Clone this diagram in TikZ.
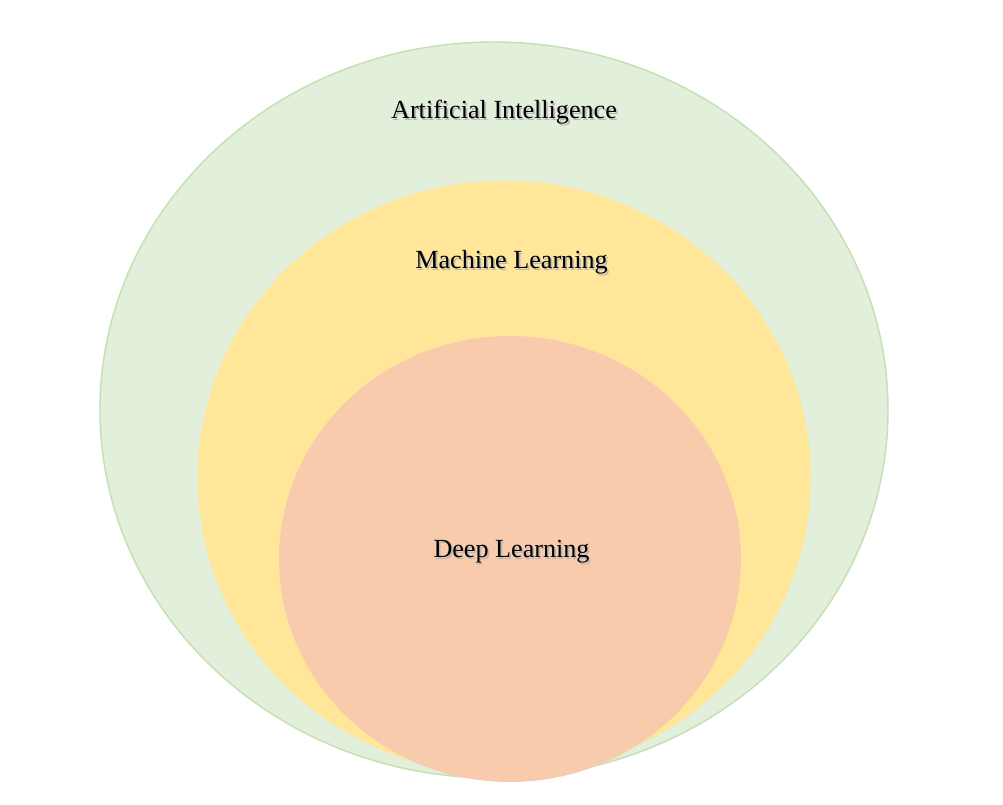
\documentclass[tikz,border=0pt]{standalone}
\usepackage{fontspec}
\setmainfont{Liberation Serif}
\usetikzlibrary{shapes}
\usetikzlibrary{positioning}

\definecolor{aigreen}{HTML}{E2EFDA}
\definecolor{aiborder}{HTML}{C5E0B4}
\definecolor{mlyellow}{HTML}{FFE699}
\definecolor{dlorange}{HTML}{F8CBAD}

\newcommand{\shadowtxt}[1]{\makebox[0pt][l]{\hspace{1.3pt}\raisebox{-1.3pt}{\color{black!28}#1}}#1}

\tikzset{
  field/.style={ellipse, inner sep=0pt},
  fieldname/.style={font=\fontsize{19.6}{23}\selectfont, inner sep=0pt}
}

\begin{document}
\begin{tikzpicture}[x=0.75pt,y=-0.75pt]
  \useasboundingbox (0,0) rectangle (1003,805);
  % the three nested fields
  \node[field, fill=aigreen, draw=aiborder, line width=1.1pt,
        minimum width=591pt, minimum height=552pt] (ai) at (494,410) {};
  \node[field, fill=mlyellow,
        minimum width=459.8pt, minimum height=445.5pt] (ml) at (504.5,478) {};
  \node[field, fill=dlorange,
        minimum width=346.5pt, minimum height=334.5pt] (dl) at (510,559) {};
  % names
  \node[fieldname] (aitext) at (504,113) {\shadowtxt{Artificial Intelligence}};
  \node[fieldname] (mltext) at (511.5,263) {\shadowtxt{Machine Learning}};
  \node[fieldname] (dltext) at (511.5,553) {\shadowtxt{Deep Learning}};
\end{tikzpicture}
\end{document}
